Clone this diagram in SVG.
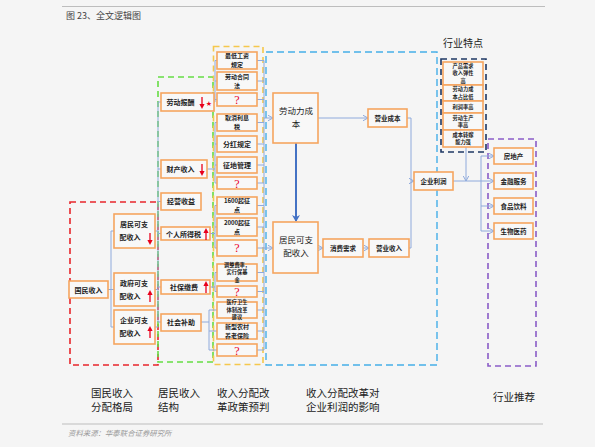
<svg xmlns="http://www.w3.org/2000/svg" xmlns:xlink="http://www.w3.org/1999/xlink" width="595" height="447" viewBox="0 0 595 447">
<defs>
<style>
.b{fill:#f8f8f8;stroke:#f5a55f;stroke-width:1.6}
.t{font-family:"Noto Sans CJK SC","Noto Sans",sans-serif;font-weight:bold;font-size:7px;fill:#222;text-anchor:middle}
.s{font-size:6.5px}
.x{font-size:6px}
.y{font-size:5.2px}
.m{font-size:8.5px;font-weight:normal}
.q{font-family:"Liberation Serif",serif;font-size:12px;fill:#e8001c;text-anchor:middle}
.c{fill:none;stroke:#8faadc;stroke-width:1}
.a{marker-end:url(#ah)}
.lb{font-family:"Noto Sans CJK SC",sans-serif;font-size:10.5px;fill:#222}
.dr{fill:none;stroke:#e8262b;stroke-width:1.6;stroke-dasharray:6 4}
.dg{fill:none;stroke:#66dd44;stroke-width:1.6;stroke-dasharray:6 4}
.dy{fill:none;stroke:#f5c84c;stroke-width:1.6;stroke-dasharray:6 4}
.db{fill:none;stroke:#45aee8;stroke-width:1.4;stroke-dasharray:7 4}
.dn{fill:none;stroke:#1f3864;stroke-width:1.6;stroke-dasharray:6 4}
.dp{fill:none;stroke:#8a5cc7;stroke-width:1.6;stroke-dasharray:6 4}
</style>
<marker id="ah" markerWidth="6" markerHeight="6" refX="5.5" refY="3" orient="auto" markerUnits="userSpaceOnUse">
<path d="M0,0 L5.5,3 L0,6" fill="none" stroke="#8faadc" stroke-width="1"/>
</marker>
<marker id="ahb" markerWidth="8" markerHeight="8" refX="6" refY="4" orient="auto" markerUnits="userSpaceOnUse">
<path d="M0,0 L7,4 L0,8 L2,4 Z" fill="#4472c4"/>
</marker>
<g id="dnA"><path d="M0,0 V8" stroke="#e8001c" stroke-width="1.3"/><polygon points="-2.6,7 2.6,7 0,12" fill="#e8001c"/></g>
<g id="upA"><path d="M0,4 V12" stroke="#e8001c" stroke-width="1.3"/><polygon points="-2.6,5 2.6,5 0,0" fill="#e8001c"/></g>
</defs>
<rect width="595" height="447" fill="#f5f5f5"/>
<line x1="62" y1="6.5" x2="545" y2="6.5" stroke="#bdbdbd" stroke-width="1"/>
<text x="66" y="19" style="font-family:'Noto Sans CJK SC',sans-serif;font-size:9px;fill:#444">图 23、全文逻辑图</text>

<g id="regions">
<rect class="dr" x="70" y="202" width="88" height="163"/>
<rect class="dg" x="158" y="77" width="55" height="285"/>
<rect class="dy" x="213.5" y="46.5" width="49.5" height="318"/>
<rect class="db" x="266" y="52" width="171" height="313"/>
<rect class="dn" x="441" y="59" width="45" height="93"/>
<rect class="dp" x="488" y="139" width="48" height="227"/>
</g>

<g id="connectors">
<path class="c" d="M108,289.5 H111 M111,231 V327 M111,231 H114 M111,289.5 H114 M111,327 H114"/>
<path class="c" d="M155,231 H158 M155,289.5 H158 M155,327 H158 M158,102 V322 M158,102 H161 M158,169 H161 M158,201.5 H161 M158,233.5 H161 M158,287 H161 M158,322 H161"/>
<path class="c" d="M214,102 H215 M215,60.5 V102 M215,60.5 H217 M215,81 H217 M215,99.5 H217"/>
<path class="c" d="M207,169 H215 M215,122.5 V183 M215,122.5 H217 M215,144 H217 M215,165 H217 M215,183 H217"/>
<path class="c" d="M210,233.5 H215 M215,205.5 V248 M215,205.5 H217 M215,227 H217 M215,248 H217"/>
<path class="c" d="M210,287 H215 M215,272.5 V291.5 M215,272.5 H217 M215,291.5 H217"/>
<path class="c" d="M201,322 H209 M209,310 V350 M209,310 H217 M209,331 H217 M209,350 H217"/>
<path class="c" d="M257,60.5 H264 M257,81 H264 M257,99.5 H264 M257,122.5 H264 M257,144 H264 M257,165 H264 M257,183 H264 M257,205.5 H264 M257,227 H264 M257,248 H264 M257,272.5 H264 M257,291.5 H264 M257,310 H264 M257,331 H264 M257,350 H264 M264,60.5 V350"/>
<path class="c a" d="M264,118 H273"/>
<path class="c a" d="M264,248 H273"/>
<path d="M296,143 V221" fill="none" stroke="#4472c4" stroke-width="2" marker-end="url(#ahb)"/>
<path class="c a" d="M318,118 H368"/>
<path class="c a" d="M318,248 H323"/>
<path class="c a" d="M363,248 H369"/>
<path class="c" d="M407,118 H411 V248 H409"/>
<path class="c a" d="M411,181 H414"/>
<path class="c a" d="M453,181 H494"/>
<path class="c a" d="M466,147 V181"/>
<path class="c" d="M481,156 V231"/>
<path class="c a" d="M481,156 H494"/>
<path class="c a" d="M481,206 H494"/>
<path class="c a" d="M481,231 H494"/>
</g>

<g id="n-guomin"><rect class="b" x="69" y="281" width="39" height="17"/><text class="t" x="88.5" y="292.5">国民收入</text></g>
<g id="n-jumin-l"><rect class="b" x="114" y="214" width="41" height="34"/><text class="t" x="134" y="227">居民可支</text><text class="t" x="130" y="240">配收入</text><use xlink:href="#dnA" x="150" y="233"/></g>
<g id="n-zhengfu"><rect class="b" x="114" y="273" width="41" height="33"/><text class="t" x="134" y="286">政府可支</text><text class="t" x="130" y="299">配收入</text><use xlink:href="#upA" x="150" y="290"/></g>
<g id="n-qiye-l"><rect class="b" x="114" y="310" width="41" height="34"/><text class="t" x="134" y="323">企业可支</text><text class="t" x="130" y="336">配收入</text><use xlink:href="#upA" x="150" y="326"/></g>

<g id="n-laodongbaochou"><rect class="b" x="161" y="93" width="53" height="18"/><text class="t" x="180.5" y="105">劳动报酬</text><use xlink:href="#dnA" x="202" y="97"/><text x="209" y="106" style="font-size:7px;fill:#e8001c;text-anchor:middle;font-family:'DejaVu Sans',sans-serif">★</text></g>
<g id="n-caichan"><rect class="b" x="161" y="160" width="46" height="18"/><text class="t" x="180.5" y="172">财产收入</text><use xlink:href="#dnA" x="202" y="164"/></g>
<g id="n-jingying"><rect class="b" x="161" y="193" width="40" height="17"/><text class="t" x="181" y="204">经营收益</text></g>
<g id="n-geshui"><rect class="b" x="161" y="227" width="49" height="13"/><text class="t" x="183.5" y="236.5">个人所得税</text><use xlink:href="#upA" x="206" y="228"/></g>
<g id="n-shebao"><rect class="b" x="161" y="280" width="49" height="14"/><text class="t" x="184" y="290">社保缴费</text><use xlink:href="#upA" x="206" y="281"/></g>
<g id="n-shehui"><rect class="b" x="161" y="314" width="40" height="17"/><text class="t" x="181" y="325">社会补助</text></g>

<g id="p1"><rect class="b" x="217" y="52" width="40" height="17"/><text class="t x" x="237" y="58.3">最低工资</text><text class="t x" x="237" y="67">规定</text></g>
<g id="p2"><rect class="b" x="217" y="72" width="40" height="18"/><text class="t x" x="237" y="78.8">劳动合同</text><text class="t x" x="237" y="87.5">法</text></g>
<g id="p3"><rect class="b" x="217" y="93" width="40" height="13"/><text class="q" x="237" y="104">?</text></g>
<g id="p4"><rect class="b" x="217" y="114" width="40" height="17"/><text class="t x" x="237" y="120.3">取消利息</text><text class="t x" x="237" y="129">税</text></g>
<g id="p5"><rect class="b" x="217" y="136" width="40" height="16"/><text class="t" x="237" y="146.5">分红规定</text></g>
<g id="p6"><rect class="b" x="217" y="157" width="40" height="16"/><text class="t" x="237" y="167.5">征地管理</text></g>
<g id="p7"><rect class="b" x="217" y="177" width="40" height="12"/><text class="q" x="237" y="187.5">?</text></g>
<g id="p8"><rect class="b" x="217" y="197" width="40" height="17"/><text class="t x" x="237" y="203.3">1600起征</text><text class="t x" x="237" y="212">点</text></g>
<g id="p9"><rect class="b" x="217" y="218" width="40" height="18"/><text class="t x" x="237" y="224.8">2000起征</text><text class="t x" x="237" y="233.5">点</text></g>
<g id="p10"><rect class="b" x="217" y="240" width="40" height="16"/><text class="q" x="237" y="252">?</text></g>
<g id="p11"><rect class="b" x="217" y="264" width="40" height="17"/><text class="t y" x="237" y="266.7">调整费率，</text><text class="t y" x="237" y="274.3">实行保基</text><text class="t y" x="237" y="281.9">金</text></g>
<g id="p12"><rect class="b" x="217" y="286" width="40" height="11"/><text class="q" x="237" y="296">?</text></g>
<g id="p13"><rect class="b" x="217" y="302" width="40" height="16"/><text class="t y" x="237" y="304.2">医疗卫生</text><text class="t y" x="237" y="311.8">体制改革</text><text class="t y" x="237" y="319.4">建议</text></g>
<g id="p14"><rect class="b" x="217" y="323" width="40" height="16"/><text class="t x" x="237" y="328.8">新型农村</text><text class="t x" x="237" y="337.5">养老保险</text></g>
<g id="p15"><rect class="b" x="217" y="344" width="40" height="12"/><text class="q" x="237" y="354.5">?</text></g>

<g id="n-laodonglichengben"><rect class="b" x="273" y="93" width="45" height="50"/><text class="t m" x="296" y="114">劳动力成</text><text class="t m" x="296" y="127">本</text></g>
<g id="n-jumin-m"><rect class="b" x="273" y="222" width="45" height="51"/><text class="t m" x="296" y="243">居民可支</text><text class="t m" x="296" y="256">配收入</text></g>
<g id="n-yingyechengben"><rect class="b" x="368" y="109" width="39" height="18"/><text class="t s" x="387.5" y="120.5">营业成本</text></g>
<g id="n-xiaofei"><rect class="b" x="323" y="239" width="40" height="18"/><text class="t s" x="343" y="250.5">消费需求</text></g>
<g id="n-yingyeshouru"><rect class="b" x="369" y="239" width="40" height="18"/><text class="t s" x="389" y="250.5">营业收入</text></g>
<g id="n-qiyelirun"><rect class="b" x="414" y="172" width="39" height="18"/><text class="t s" x="433.5" y="183.5">企业利润</text></g>

<text x="463" y="47" style="font-family:'Noto Sans CJK SC',sans-serif;font-size:10px;fill:#222;text-anchor:middle">行业特点</text>
<g id="f1"><rect class="b" x="443" y="62" width="40" height="23"/><text class="t y" x="463" y="67.7">产品需求</text><text class="t y" x="463" y="75.3">收入弹性</text><text class="t y" x="463" y="82.9">高</text></g>
<g id="f2"><rect class="b" x="443" y="85" width="40" height="16"/><text class="t y" x="463" y="91">劳动力成</text><text class="t y" x="463" y="98.6">本占比低</text></g>
<g id="f3"><rect class="b" x="443" y="101" width="40" height="12"/><text class="t y" x="463" y="108.8">利润率高</text></g>
<g id="f4"><rect class="b" x="443" y="113" width="40" height="17"/><text class="t y" x="463" y="119.5">劳动生产</text><text class="t y" x="463" y="127.1">率高</text></g>
<g id="f5"><rect class="b" x="443" y="130" width="40" height="17"/><text class="t y" x="463" y="136.5">成本转嫁</text><text class="t y" x="463" y="144.1">能力强</text></g>

<g id="r1"><rect class="b" x="494" y="148" width="39" height="16"/><text class="t s" x="513.5" y="158.5">房地产</text></g>
<g id="r2"><rect class="b" x="494" y="173" width="39" height="16"/><text class="t s" x="513.5" y="183.5">金融服务</text></g>
<g id="r3"><rect class="b" x="494" y="198" width="39" height="16"/><text class="t s" x="513.5" y="208.5">食品饮料</text></g>
<g id="r4"><rect class="b" x="494" y="223" width="39" height="16"/><text class="t s" x="513.5" y="233.5">生物医药</text></g>

<g id="labels">
<text class="lb" x="91" y="397">国民收入</text><text class="lb" x="91" y="411">分配格局</text>
<text class="lb" x="158" y="397">居民收入</text><text class="lb" x="158" y="411">结构</text>
<text class="lb" x="217" y="397">收入分配改</text><text class="lb" x="217" y="411">革政策预判</text>
<text class="lb" x="306" y="397">收入分配改革对</text><text class="lb" x="306" y="411">企业利润的影响</text>
<text class="lb" x="493" y="401">行业推荐</text>
</g>
<line x1="62" y1="424" x2="543" y2="424" stroke="#bdbdbd" stroke-width="1"/>
<text x="68" y="436" style="font-family:'Noto Sans CJK SC',sans-serif;font-size:7.4px;fill:#9a9a9a;font-style:italic">资料来源：华泰联合证券研究所</text>
</svg>
